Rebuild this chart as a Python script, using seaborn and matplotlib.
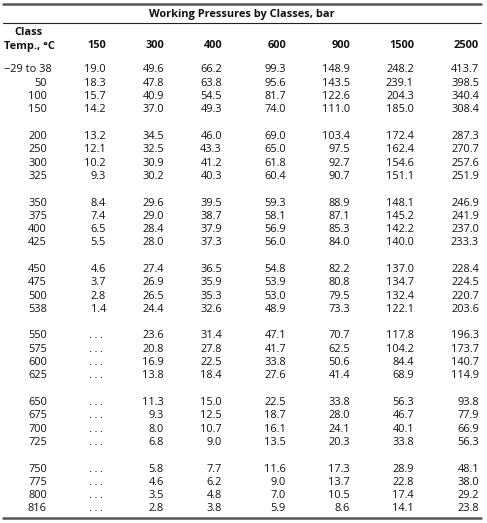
import matplotlib
matplotlib.use("Agg")
import matplotlib.pyplot as plt
import seaborn as sns

temps = ["\u221229 to 38", "50", "100", "150", "200", "250", "300", "325",
         "350", "375", "400", "425", "450", "475", "500", "538",
         "550", "575", "600", "625", "650", "675", "700", "725",
         "750", "775", "800", "816"]
classes = ["150", "300", "400", "600", "900", "1500", "2500"]

c150 = [19.0, 18.3, 15.7, 14.2, 13.2, 12.1, 10.2, 9.3, 8.4, 7.4, 6.5, 5.5,
        4.6, 3.7, 2.8, 1.4] + [None] * 12
c300 = [49.6, 47.8, 40.9, 37.0, 34.5, 32.5, 30.9, 30.2, 29.6, 29.0, 28.4, 28.0,
        27.4, 26.9, 26.5, 24.4, 23.6, 20.8, 16.9, 13.8, 11.3, 9.3, 8.0, 6.8,
        5.8, 4.6, 3.5, 2.8]
c400 = [66.2, 63.8, 54.5, 49.3, 46.0, 43.3, 41.2, 40.3, 39.5, 38.7, 37.9, 37.3,
        36.5, 35.9, 35.3, 32.6, 31.4, 27.8, 22.5, 18.4, 15.0, 12.5, 10.7, 9.0,
        7.7, 6.2, 4.8, 3.8]
c600 = [99.3, 95.6, 81.7, 74.0, 69.0, 65.0, 61.8, 60.4, 59.3, 58.1, 56.9, 56.0,
        54.8, 53.9, 53.0, 48.9, 47.1, 41.7, 33.8, 27.6, 22.5, 18.7, 16.1, 13.5,
        11.6, 9.0, 7.0, 5.9]
c900 = [148.9, 143.5, 122.6, 111.0, 103.4, 97.5, 92.7, 90.7, 88.9, 87.1, 85.3, 84.0,
        82.2, 80.8, 79.5, 73.3, 70.7, 62.5, 50.6, 41.4, 33.8, 28.0, 24.1, 20.3,
        17.3, 13.7, 10.5, 8.6]
c1500 = [248.2, 239.1, 204.3, 185.0, 172.4, 162.4, 154.6, 151.1, 148.1, 145.2, 142.2, 140.0,
         137.0, 134.7, 132.4, 122.1, 117.8, 104.2, 84.4, 68.9, 56.3, 46.7, 40.1, 33.8,
         28.9, 22.8, 17.4, 14.1]
c2500 = [413.7, 398.5, 340.4, 308.4, 287.3, 270.7, 257.6, 251.9, 246.9, 241.9, 237.0, 233.3,
         228.4, 224.5, 220.7, 203.6, 196.3, 173.7, 140.7, 114.9, 93.8, 77.9, 66.9, 56.3,
         48.1, 38.0, 29.2, 23.8]
columns = [c150, c300, c400, c600, c900, c1500, c2500]

sns.set_style("white")
plt.rcParams["font.family"] = ["Open Sans", "DejaVu Sans"]

fig = plt.figure(figsize=(4.87, 5.23), dpi=100)
ax = fig.add_axes([0, 0, 1, 1])
ax.set_xlim(0, 487)
ax.set_ylim(523, 0)
ax.axis("off")

fs = 7.9
tc = "#111111"
col_right = [106, 164, 222, 286, 350, 414, 479]

# rules
ax.plot([3, 481], [4, 4], color="#555555", lw=1.8)
ax.plot([3, 481], [22.5, 22.5], color="#222222", lw=0.8)
ax.plot([3, 481], [518, 518], color="#555555", lw=1.8)

ax.text(242, 14, "Working Pressures by Classes, bar", ha="center", va="center",
        fontsize=fs, fontweight="bold", color=tc)
ax.text(14, 32.5, "Class", ha="left", va="center", fontsize=fs, fontweight="bold", color=tc)
ax.text(4, 46, "Temp., \u00b0C", ha="left", va="center", fontsize=fs, fontweight="bold", color=tc)
for x, c in zip(col_right, classes):
    ax.text(x, 46, c, ha="right", va="center", fontsize=fs, fontweight="bold", color=tc)

for i, t in enumerate(temps):
    y = 70 + (i // 4) * 66.5 + (i % 4) * 13.3
    if i == 0:
        ax.text(4, y, t, ha="left", va="center", fontsize=fs, color=tc)
    else:
        ax.text(47, y, t, ha="right", va="center", fontsize=fs, color=tc)
    for x, col in zip(col_right, columns):
        v = col[i]
        if v is None:
            ax.text(96, y, ". . .", ha="center", va="center", fontsize=fs, color=tc)
        else:
            ax.text(x, y, f"{v:.1f}", ha="right", va="center", fontsize=fs, color=tc)

fig.savefig("out.png", dpi=100)
